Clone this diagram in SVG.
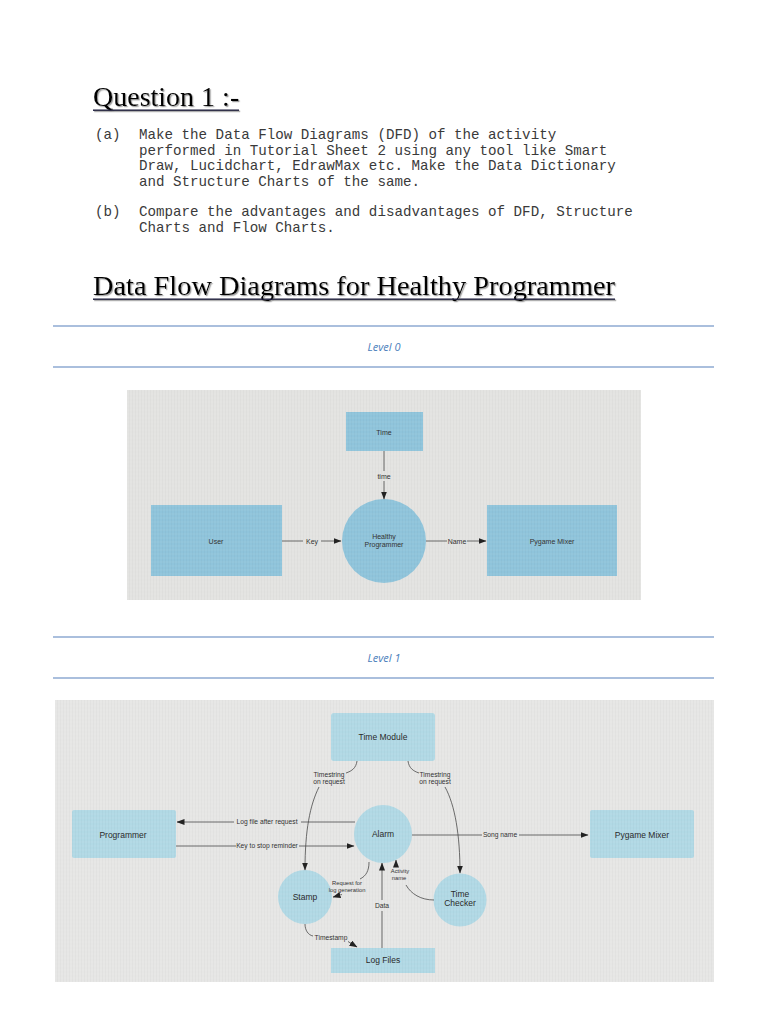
<svg xmlns="http://www.w3.org/2000/svg" width="768" height="1024" viewBox="0 0 768 1024">
<style>
.title{font-family:"Liberation Serif","Times New Roman",serif;font-size:28px;fill:#000;}
.mono{font-family:"Liberation Mono","Courier New",monospace;font-size:14.2px;fill:#3a3a3a;}
.lvl{font-family:"Open Sans","Liberation Sans",sans-serif;font-style:italic;font-size:11px;fill:#4a7ebb;text-anchor:middle;}
.rule{stroke:#8eaad2;stroke-width:1.5;}
.bg0{fill:#e3e3e1;}
.bg1{fill:#e6e6e5;}
.tex{fill:url(#tex);}
.n0{fill:#8fc4db;}
.n1{fill:#b1d9e5;}
.t0{font-family:"Liberation Sans",Arial,sans-serif;font-size:7px;fill:#333;text-anchor:middle;}
.t1{font-family:"Liberation Sans",Arial,sans-serif;font-size:8.5px;fill:#2a2a2a;text-anchor:middle;}
.el{font-family:"Liberation Sans",Arial,sans-serif;font-size:6.7px;fill:#333;text-anchor:middle;}
.es{font-family:"Liberation Sans",Arial,sans-serif;font-size:5.8px;fill:#333;text-anchor:middle;}
.c{fill:none;stroke:#4a4a4a;stroke-width:0.8;}
.ca{fill:none;stroke:#4a4a4a;stroke-width:0.8;marker-end:url(#ah);}
</style>
<defs>
<pattern id="tex" width="3" height="4" patternUnits="userSpaceOnUse">
<path d="M0.5,0 V4" stroke="#000" stroke-opacity="0.025" stroke-width="1"/>
<path d="M0,2 H3" stroke="#fff" stroke-opacity="0.08" stroke-width="1"/>
</pattern>
<marker id="ah" markerUnits="userSpaceOnUse" markerWidth="8" markerHeight="6" refX="7.5" refY="3" orient="auto">
<path d="M0,0 L8,3 L0,6 z" fill="#222"/>
</marker>
<filter id="sh" x="-5%" y="-20%" width="110%" height="150%">
<feDropShadow dx="1.2" dy="1.2" stdDeviation="0.7" flood-color="#777" flood-opacity="0.7"/>
</filter>
</defs>
<rect width="768" height="1024" fill="#fff"/>

<g id="header">
<g filter="url(#sh)">
<text class="title" x="93" y="106">Question 1 :-</text>
<rect x="93" y="109.5" width="146" height="1.4" fill="#1a1a3a"/>
</g>
<text class="mono" x="95" y="139">(a)</text>
<text class="mono" x="139" y="139">Make the Data Flow Diagrams (DFD) of the activity</text>
<text class="mono" x="139" y="155">performed in Tutorial Sheet 2 using any tool like Smart</text>
<text class="mono" x="139" y="170">Draw, Lucidchart, EdrawMax etc. Make the Data Dictionary</text>
<text class="mono" x="139" y="186">and Structure Charts of the same.</text>
<text class="mono" x="95" y="216">(b)</text>
<text class="mono" x="139" y="216">Compare the advantages and disadvantages of DFD, Structure</text>
<text class="mono" x="139" y="232">Charts and Flow Charts.</text>
<g filter="url(#sh)">
<text class="title" x="93" y="295" textLength="522" lengthAdjust="spacingAndGlyphs">Data Flow Diagrams for Healthy Programmer</text>
<rect x="93" y="298.5" width="522" height="1.4" fill="#1a1a3a"/>
</g>
</g>

<g id="level0-heading">
<line class="rule" x1="53" y1="326" x2="714" y2="326"/>
<text class="lvl" x="384" y="351">Level 0</text>
<line class="rule" x1="53" y1="367" x2="714" y2="367"/>
</g>

<g id="level0-canvas">
<rect class="bg0" x="127" y="390" width="514" height="210"/>
<rect class="tex" x="127" y="390" width="514" height="210"/>
</g>

<g id="l0-time">
<rect class="n0" x="346" y="412" width="77" height="39"/>
<rect class="tex" x="346" y="412" width="77" height="39"/>
<text class="t0" x="384" y="434.5">Time</text>
</g>
<g id="l0-healthy-programmer">
<circle class="n0" cx="384" cy="541" r="42"/>
<circle class="tex" cx="384" cy="541" r="42"/>
<text class="t0" x="384" y="539">Healthy</text>
<text class="t0" x="384" y="547">Programmer</text>
</g>
<g id="l0-user">
<rect class="n0" x="151" y="505" width="131" height="71"/>
<rect class="tex" x="151" y="505" width="131" height="71"/>
<text class="t0" x="216" y="543.5">User</text>
</g>
<g id="l0-pygame-mixer">
<rect class="n0" x="487" y="505" width="130" height="71"/>
<rect class="tex" x="487" y="505" width="130" height="71"/>
<text class="t0" x="552" y="543.5">Pygame Mixer</text>
</g>

<g id="l0-connectors">
<path class="c" d="M384,451 V471"/>
<path class="ca" d="M384,481 V499"/>
<text class="t0" x="384" y="478.5">time</text>
<path class="c" d="M282,541 H303"/>
<path class="ca" d="M321,541 H341"/>
<text class="t0" x="312" y="543.5">Key</text>
<path class="c" d="M426,541 H447"/>
<path class="ca" d="M467,541 H486"/>
<text class="t0" x="457" y="543.5">Name</text>
</g>

<g id="level1-heading">
<line class="rule" x1="53" y1="637" x2="714" y2="637"/>
<text class="lvl" x="384" y="662">Level 1</text>
<line class="rule" x1="53" y1="678" x2="714" y2="678"/>
</g>

<g id="level1-canvas">
<rect class="bg1" x="55" y="700" width="659" height="282"/>
<rect class="tex" x="55" y="700" width="659" height="282"/>
</g>

<g id="l1-time-module">
<rect class="n1" x="331" y="713" width="104" height="48" rx="3"/>
<rect class="tex" x="331" y="713" width="104" height="48" rx="3"/>
<text class="t1" x="383" y="740">Time Module</text>
</g>
<g id="l1-programmer">
<rect class="n1" x="72" y="810" width="104" height="48" rx="2"/>
<rect class="tex" x="72" y="810" width="104" height="48" rx="2"/>
<text class="t1" x="123" y="838">Programmer</text>
</g>
<g id="l1-pygame-mixer">
<rect class="n1" x="590" y="810" width="104" height="48" rx="2"/>
<rect class="tex" x="590" y="810" width="104" height="48" rx="2"/>
<text class="t1" x="642" y="838">Pygame Mixer</text>
</g>
<g id="l1-alarm">
<circle class="n1" cx="383" cy="834" r="29"/>
<circle class="tex" cx="383" cy="834" r="29"/>
<text class="t1" x="383" y="837">Alarm</text>
</g>
<g id="l1-stamp">
<circle class="n1" cx="305" cy="897" r="27"/>
<circle class="tex" cx="305" cy="897" r="27"/>
<text class="t1" x="305" y="900">Stamp</text>
</g>
<g id="l1-time-checker">
<circle class="n1" cx="460" cy="900" r="26.5"/>
<circle class="tex" cx="460" cy="900" r="26.5"/>
<text class="t1" x="460" y="897">Time</text>
<text class="t1" x="460" y="906">Checker</text>
</g>
<g id="l1-log-files">
<rect class="n1" x="331" y="948" width="104" height="25"/>
<rect class="tex" x="331" y="948" width="104" height="25"/>
<text class="t1" x="383" y="963">Log Files</text>
</g>

<g id="l1-connectors">
<path class="c" d="M355,822 H301"/>
<path class="ca" d="M234,822 H177"/>
<text class="el" x="267" y="824.3">Log file after request</text>

<path class="c" d="M176,846 H236"/>
<path class="ca" d="M299,846 H354"/>
<text class="el" x="267" y="848.3">Key to stop reminder</text>

<path class="c" d="M412,835 H482"/>
<path class="ca" d="M519,835 H588"/>
<text class="el" x="500" y="837.3">Song name</text>

<path class="c" d="M357,761 C356,768 352,771 346,773"/>
<path class="ca" d="M319,787 C310,805 305,830 305,870"/>
<text class="el" x="329" y="776.5">Timestring</text>
<text class="el" x="329" y="783.5">on request</text>

<path class="c" d="M408,761 C409,768 413,771 419,773"/>
<path class="ca" d="M445,787 C455,805 460,835 460,873"/>
<text class="el" x="435" y="776.5">Timestring</text>
<text class="el" x="435" y="783.5">on request</text>

<path class="c" d="M369,862 C369,871 366,876 360,879"/>
<path class="ca" d="M342,894.5 L333,897"/>
<text class="es" x="347" y="885">Request for</text>
<text class="es" x="347" y="892">log generation</text>

<path class="c" d="M382,948 V911"/>
<path class="ca" d="M382,900 V863"/>
<text class="el" x="382" y="907.5">Data</text>

<path class="c" d="M434,900 C421,900 411,894 406,885"/>
<path class="ca" d="M396,866 V860"/>
<text class="es" x="400" y="873">Activity</text>
<text class="es" x="399" y="880">name</text>

<path class="c" d="M305,924 C305,930 308,935 313,936"/>
<path class="ca" d="M348,941.5 L357,947"/>
<text class="el" x="331" y="939.5">Timestamp</text>
</g>
</svg>
